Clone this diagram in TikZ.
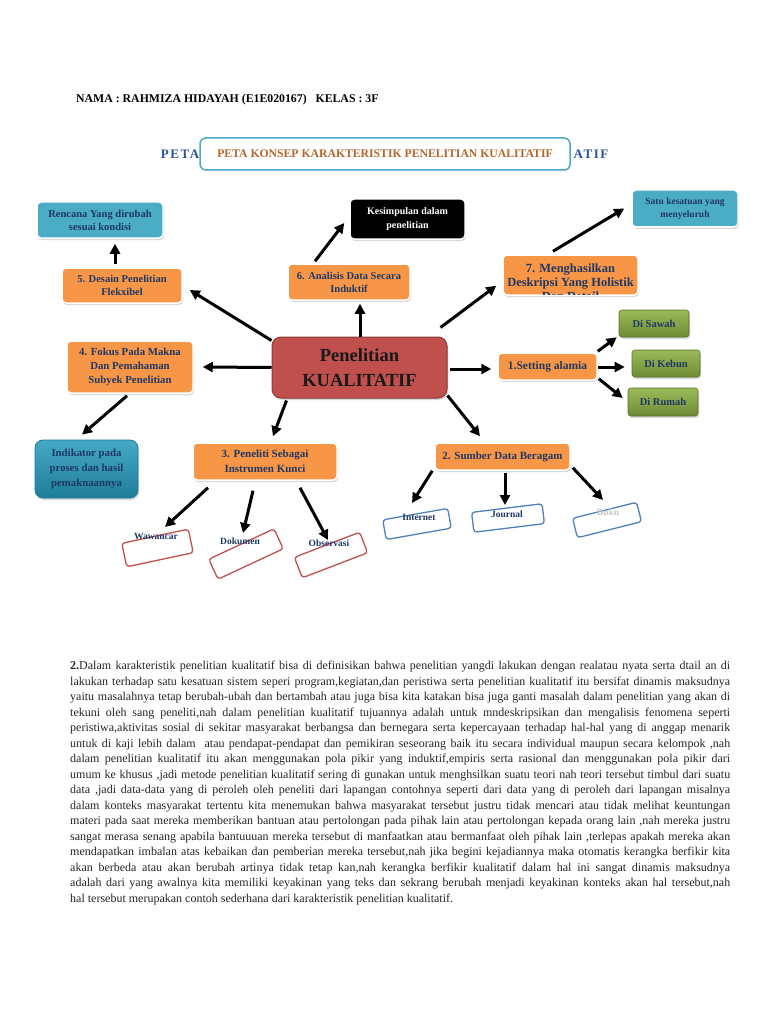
\documentclass[tikz,border=0pt]{standalone}
\usepackage{fontspec}
\setmainfont{Liberation Serif}
\newfontfamily\spacedfont[LetterSpace=12]{Liberation Serif}
\usetikzlibrary{arrows.meta,calc,shadows}
\definecolor{dblue}{HTML}{1F3864}
\definecolor{orangeF}{HTML}{F79646}
\definecolor{redC}{HTML}{C0504D}
\definecolor{redD}{HTML}{8C3836}
\definecolor{tealF}{HTML}{4BACC6}
\definecolor{tealT}{HTML}{45A9C6}
\definecolor{tealB}{HTML}{1F7D99}
\definecolor{greenT}{HTML}{9BBB59}
\definecolor{greenB}{HTML}{6E8B35}
\definecolor{titleBrown}{HTML}{B5652A}
\definecolor{titleBlue}{HTML}{2B5592}
\definecolor{boxBlue}{HTML}{4F81BD}
\begin{document}
\begin{tikzpicture}[x=1pt,y=-1pt,
  box/.style={rounded corners=4pt, align=center, inner sep=2pt, text=dblue,
    font=\bfseries\fontsize{10.5}{13}\selectfont},
  shad/.style={drop shadow={opacity=0.3,shadow xshift=1pt,shadow yshift=-2pt}},
  obox/.style={box, fill=orangeF, draw=white, line width=1.5pt, shad},
  bbox/.style={box, fill=tealF, draw=white, line width=1.5pt, shad},
  gbox/.style={box, top color=greenT, bottom color=greenB, draw=greenB!80!black, line width=0.6pt, shad, rounded corners=3pt},
  rbox/.style={draw=redC, line width=1.3pt, rounded corners=3pt, fill=white},
  ubox/.style={draw=boxBlue, line width=1.3pt, rounded corners=3pt, fill=white},
  lab/.style={text=dblue, font=\bfseries\fontsize{9.5}{11}\selectfont, inner sep=0pt},
  arr/.style={line width=3pt, -{Triangle[length=10pt,width=10pt]}}
]
\useasboundingbox[fill=white] (0,0) rectangle (768,1024);

% header
\node[anchor=west, inner sep=0pt, font=\bfseries\fontsize{11.8}{14}\selectfont] (hdr) at (76,100)
  {NAMA : RAHMIZA HIDAYAH (E1E020167)\ \ \ KELAS : 3F};

% title
\node[inner sep=0pt, text=titleBlue, font=\spacedfont\bfseries\fontsize{13}{15}\selectfont] (petaL) at (180,154) {PETA};
\node[inner sep=0pt, text=titleBlue, font=\spacedfont\bfseries\fontsize{13}{15}\selectfont] (petaR) at (591,154) {ATIF};
\node[draw=tealF, line width=1.5pt, fill=white, rounded corners=6pt, minimum width=370pt, minimum height=32pt,
  text=titleBrown, font=\bfseries\fontsize{11.7}{13}\selectfont, drop shadow={opacity=0.15,shadow xshift=1pt,shadow yshift=-1.5pt}] (title) at (385,154)
  {PETA KONSEP KARAKTERISTIK PENELITIAN KUALITATIF};

% center
\node[draw=redD, line width=1pt, fill=redC, rounded corners=9pt, minimum width=175pt, minimum height=61pt,
  align=center, font=\bfseries\fontsize{18.5}{25}\selectfont, text=black!90, shad] (c) at (359.5,367.5)
  {Penelitian\\KUALITATIF};

% orange boxes
\node[obox, minimum width=120pt, minimum height=35pt] (n5) at (122,285.5) {5. Desain Penelitian\\Flekxibel};
\node[obox, minimum width=122pt, minimum height=36pt] (n6) at (349,282) {6. Analisis Data Secara\\Induktif};
\node[obox, minimum width=135pt, minimum height=40pt] (n7) at (570.5,275) {};
\begin{scope}
  \clip[rounded corners=4pt] ($(n7.south west)+(1,-1)$) rectangle ($(n7.north east)+(-1,1)$);
  \node[align=center, text=dblue, font=\bfseries\fontsize{12.5}{14}\selectfont, inner sep=0pt] (n7t) at ($(n7.center)+(0,7)$)
    {7. Menghasilkan\\Deskripsi Yang Holistik\\Dan Detail};
\end{scope}
\node[obox, minimum width=126pt, minimum height=52pt, font=\bfseries\fontsize{10.8}{14.3}\selectfont] (n4) at (130,367)
  {4. Fokus Pada Makna\\Dan Pemahaman\\Subyek Penelitian};
\node[obox, minimum width=144pt, minimum height=37pt, font=\bfseries\fontsize{11}{15}\selectfont] (n3) at (265,461.5) {3. Peneliti Sebagai\\Instrumen Kunci};
\node[obox, minimum width=135pt, minimum height=27pt, font=\bfseries\fontsize{11}{13}\selectfont] (n2) at (502.5,456.5) {2. Sumber Data Beragam};
\node[obox, minimum width=99pt, minimum height=27pt, font=\bfseries\fontsize{11.5}{13}\selectfont] (n1) at (547.5,366.5) {1.Setting alamia};

% blue / black boxes
\node[bbox, minimum width=126pt, minimum height=36pt] (ren) at (100,220) {Rencana Yang dirubah\\sesuai kondisi};
\node[bbox, minimum width=106pt, minimum height=37pt, font=\bfseries\fontsize{9.5}{13}\selectfont] (satu) at (685,208.5) {Satu kesatuan yang\\menyeluruh};
\node[box, fill=black, text=white, draw=white, line width=1.5pt, shad, minimum width=115pt, minimum height=40pt,
  font=\bfseries\fontsize{10}{14}\selectfont] (kes) at (407.5,219) {Kesimpulan dalam\\penelitian};
\node[box, top color=tealT, bottom color=tealB, draw=tealB, line width=0.8pt, rounded corners=8pt, shad,
  minimum width=103pt, minimum height=58pt, font=\bfseries\fontsize{10.8}{15}\selectfont] (ind) at (86.5,469)
  {Indikator pada\\proses dan hasil\\pemaknaannya};

% green boxes
\node[gbox, minimum width=70pt, minimum height=27pt] (sawah) at (654,323.5) {Di Sawah};
\node[gbox, minimum width=68pt, minimum height=27pt] (kebun) at (666,363.5) {Di Kebun};
\node[gbox, minimum width=70pt, minimum height=28pt] (rumah) at (663,402) {Di Rumah};

% outlined tilted boxes
\node[rbox, minimum width=68pt, minimum height=24pt, rotate=12] (wbox) at (157.5,548) {};
\node[rbox, minimum width=72pt, minimum height=22pt, rotate=25] (dbox) at (246,554) {};
\node[rbox, minimum width=70pt, minimum height=22pt, rotate=21] (obx) at (331,555) {};
\node[ubox, minimum width=66pt, minimum height=20pt, rotate=10] (ibox) at (417,524) {};
\node[ubox, minimum width=71pt, minimum height=20pt, rotate=7] (jbox) at (508,518) {};
\node[ubox, minimum width=66pt, minimum height=20pt, rotate=14] (bbx) at (607,520) {};

\node[lab] (wl) at (156,536) {Wawancar};
\node[lab] (dl) at (240,541) {Dokumen};
\node[lab] (ol) at (329,543) {Observasi};
\node[lab] (il) at (419,517) {Internet};
\node[lab] (jl) at (507,514) {Journal};
\node[lab, text=black!22] (bl) at (608,512) {Buku};

% arrows from center
\draw[arr] ($(c.north west)+(0,4)$) -- ($(n5.east)+(7,4.5)$);
\draw[arr] ($(c.north)+(0.5,0)$) -- ($(n6.south)+(11,3)$);
\draw[arr] ($(c.north east)+(-7,-9)$) -- ($(n7.south west)+(-6,-10)$);
\draw[arr] (c.west) -- ($(n4.east)+(9,0)$);
\draw[arr] ($(c.east)+(2.5,1.5)$) -- ($(n1.west)+(-6,2.5)$);
\draw[arr] ($(c.south west)+(15,2)$) -- ($(n3.north)+(8,-6)$);
\draw[arr] ($(c.south east)+(0,-3)$) -- ($(n2.north)+(-22.5,-6)$);

% secondary arrows
\draw[arr] ($(n6.north)+(-34,-2)$) -- ($(kes.west)+(-5,4)$);
\draw[arr] ($(n7.north)+(-17.5,-3)$) -- ($(satu.west)+(-7,0)$);
\draw[arr] ($(n5.north)+(-7,-3)$) -- ($(ren.south)+(15,5)$);
\draw[arr] ($(n4.south)+(-3,2)$) -- ($(ind.north)+(-4.5,-5)$);
\draw[arr] ($(n1.north east)+(0,-1)$) -- ($(sawah.south west)+(-2,0)$);
\draw[arr] ($(n1.east)+(0,0.5)$) -- ($(kebun.west)+(-7,3.5)$);
\draw[arr] ($(n1.south east)+(1,-2)$) -- ($(rumah.west)+(-5,-4)$);
\draw[arr] ($(n3.south)+(-57,7)$) -- ($(wbox.center)+(7.5,-21)$);
\draw[arr] ($(n3.south)+(-12,10)$) -- ($(dbox.center)+(-3,-21)$);
\draw[arr] ($(n3.south)+(35,7)$) -- ($(obx.center)+(-3,-15)$);
\draw[arr] ($(n2.south west)+(-2,0)$) -- ($(ibox.center)+(-5,-21)$);
\draw[arr] ($(n2.south)+(2.5,2)$) -- ($(jbox.center)+(-3,-13)$);
\draw[arr] ($(n2.south east)+(2,-3)$) -- ($(bbx.center)+(-4,-20)$);

% body text
\node[anchor=north west, inner sep=0pt, align=left, text=black!85, font=\fontsize{12}{15.5}\selectfont] (body) at (70,661) {%
\makebox[660pt][s]{\textbf{2.}Dalam karakteristik penelitian kualitatif bisa di definisikan bahwa penelitian yangdi lakukan dengan realatau nyata serta dtail an di}\\
\makebox[660pt][s]{lakukan terhadap satu kesatuan sistem seperi program,kegiatan,dan peristiwa serta penelitian kualitatif itu bersifat dinamis maksudnya}\\
\makebox[660pt][s]{yaitu masalahnya tetap berubah-ubah dan bertambah atau juga bisa kita katakan bisa juga ganti masalah dalam penelitian yang akan di}\\
\makebox[660pt][s]{tekuni oleh sang peneliti,nah dalam penelitian kualitatif tujuannya adalah untuk mndeskripsikan dan mengalisis fenomena seperti}\\
\makebox[660pt][s]{peristiwa,aktivitas sosial di sekitar masyarakat berbangsa dan bernegara serta kepercayaan terhadap hal-hal yang di anggap menarik}\\
\makebox[660pt][s]{untuk di kaji lebih dalam \ atau pendapat-pendapat dan pemikiran seseorang baik itu secara individual maupun secara kelompok ,nah}\\
\makebox[660pt][s]{dalam penelitian kualitatif itu akan menggunakan pola pikir yang induktif,empiris serta rasional dan menggunakan pola pikir dari}\\
\makebox[660pt][s]{umum ke khusus ,jadi metode penelitian kualitatif sering di gunakan untuk menghsilkan suatu teori nah teori tersebut timbul dari suatu}\\
\makebox[660pt][s]{data ,jadi data-data yang di peroleh oleh peneliti dari lapangan contohnya seperti dari data yang di peroleh dari lapangan misalnya}\\
\makebox[660pt][s]{dalam konteks masyarakat tertentu kita menemukan bahwa masyarakat tersebut justru tidak mencari atau tidak melihat keuntungan}\\
\makebox[660pt][s]{materi pada saat mereka memberikan bantuan atau pertolongan pada pihak lain atau pertolongan kepada orang lain ,nah mereka justru}\\
\makebox[660pt][s]{sangat merasa senang apabila bantuuuan mereka tersebut di manfaatkan atau bermanfaat oleh pihak lain ,terlepas apakah mereka akan}\\
\makebox[660pt][s]{mendapatkan imbalan atas kebaikan dan pemberian mereka tersebut,nah jika begini kejadiannya maka otomatis kerangka berfikir kita}\\
\makebox[660pt][s]{akan berbeda atau akan berubah artinya tidak tetap kan,nah kerangka berfikir kualitatif dalam hal ini sangat dinamis maksudnya}\\
\makebox[660pt][s]{adalah dari yang awalnya kita memiliki keyakinan yang teks dan sekrang berubah menjadi keyakinan konteks akan hal tersebut,nah}\\
\makebox[660pt][l]{hal tersebut merupakan contoh sederhana dari karakteristik penelitian kualitatif.}};
\end{tikzpicture}
\end{document}
